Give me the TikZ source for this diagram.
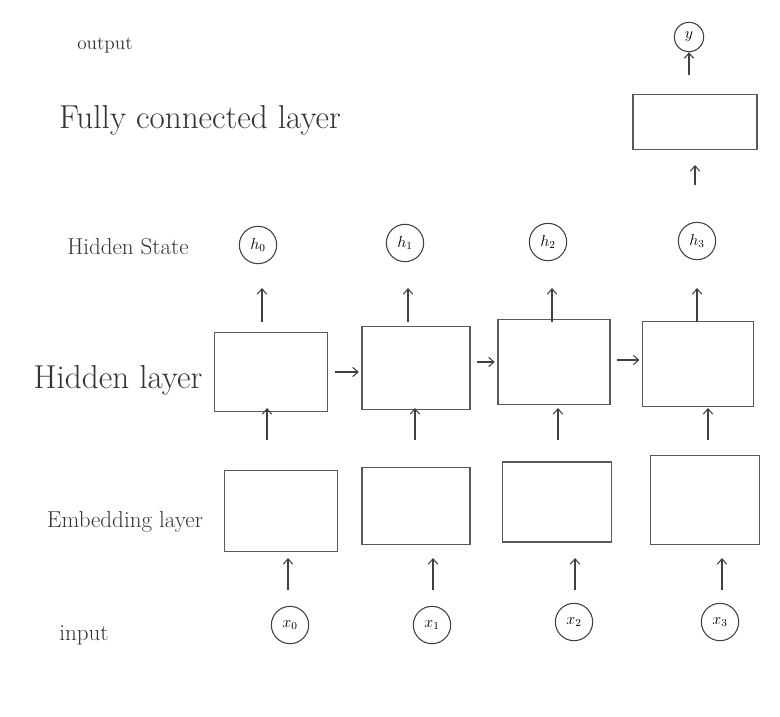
\documentclass[tikz,border=0pt]{standalone}
\usetikzlibrary{arrows.meta}
\begin{document}
\begin{tikzpicture}[x=0.75pt,y=-0.75pt,
  lbl/.style={text=black!80},
  box/.style={draw=black!65, line width=0.8pt},
  circ/.style={draw=black!75, circle, minimum size=28pt, inner sep=0pt, line width=0.8pt, font=\large},
  arr/.style={-{Straight Barb[length=4pt,width=7pt]}, draw=black!75, line width=0.8pt}]
\useasboundingbox (0,0) rectangle (780,716);
% labels
\node[lbl, font=\Large] (tout) at (105,45) {output};
\node[lbl, font=\Huge] (tfc) at (200,120) {Fully connected layer};
\node[lbl, font=\LARGE] (ths) at (128,247) {Hidden State};
\node[lbl, font=\Huge] (thl) at (118,380) {Hidden layer};
\node[lbl, font=\LARGE] (tel) at (125,522) {Embedding layer};
\node[lbl, font=\LARGE] (tin) at (84,635) {input};
% output
\node[circ, minimum size=22pt] (y) at (689,37) {$y$};
\node[box, minimum width=93pt, minimum height=41pt] (fc) at (695,122) {};
\coordinate (ya) at (689,75);
\draw[arr] (ya) -- (y);
% hidden states
\foreach \i/\x/\y in {0/258/245,1/405/243,2/548/242,3/697/241}
  \node[circ] (h\i) at (\x,\y) {$h_{\i}$};
\coordinate (fa) at (695,185);
\coordinate (fb) at (695,165);
\draw[arr] (fa) -- (fb);
% hidden boxes
\node[box, minimum width=85pt, minimum height=59pt] (H0) at (271,372) {};
\node[box, minimum width=81pt, minimum height=62pt] (H1) at (416,368) {};
\node[box, minimum width=84pt, minimum height=64pt] (H2) at (554,362) {};
\node[box, minimum width=83pt, minimum height=64pt] (H3) at (698,364) {};
% embedding boxes
\node[box, minimum width=85pt, minimum height=61pt] (E0) at (281,511) {};
\node[box, minimum width=81pt, minimum height=58pt] (E1) at (416,506) {};
\node[box, minimum width=82pt, minimum height=60pt] (E2) at (557,502) {};
\node[box, minimum width=82pt, minimum height=67pt] (E3) at (705,500) {};
% inputs
\foreach \i/\x/\y in {0/290/625,1/432/625,2/574/622,3/720/622}
  \node[circ] (x\i) at (\x,\y) {$x_{\i}$};
% arrows (short, as in sketch)
\foreach \i/\xa/\xb/\xc in {0/288/267/262,1/433/415/408,2/575/558/552,3/722/708/697}{
  \coordinate (ia\i) at (\xa,590); \coordinate (ib\i) at (\xa,558);
  \coordinate (ea\i) at (\xb,440); \coordinate (eb\i) at (\xb,408);
  \coordinate (ha\i) at (\xc,322); \coordinate (hb\i) at (\xc,288);
  \draw[arr] (ia\i) -- (ib\i);
  \draw[arr] (ea\i) -- (eb\i);
  \draw[arr] (ha\i) -- (hb\i);
}
\foreach \a/\b/\y in {0/1/372,1/2/362,2/3/360}{
  \draw[arr] ([xshift=5pt]H\a.east |- 0,\y) -- ([xshift=-2pt]H\b.west |- 0,\y);
}
\end{tikzpicture}
\end{document}
